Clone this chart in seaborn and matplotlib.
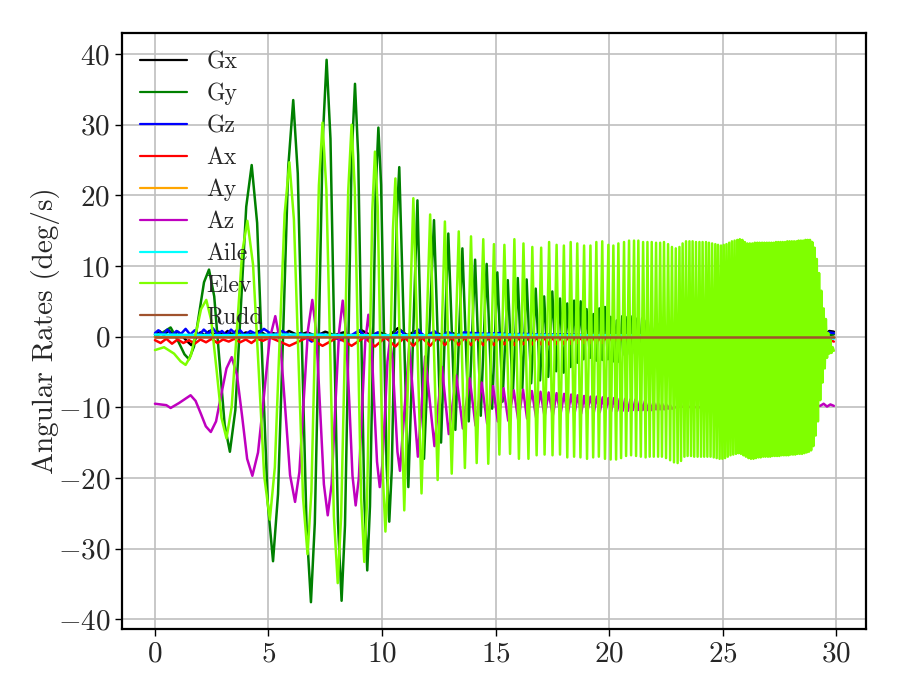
import pandas as pd
import seaborn as sns
import matplotlib
matplotlib.use("Agg")
import matplotlib.pyplot as plt
from matplotlib.lines import Line2D

# points (time in s, rate in deg/s)
gx_t = [0.00, 0.20, 0.40, 0.60, 0.80, 1.00, 1.20, 1.40,
        1.60, 1.80, 2.00, 2.20, 2.40, 2.60, 2.80, 3.00,
        3.20, 3.40, 3.60, 3.80, 4.00, 4.30, 4.60, 4.90,
        5.20, 5.60, 5.90, 6.30, 6.70, 7.10, 7.50, 7.90,
        8.30, 8.70, 9.10, 9.50, 9.90, 10.30, 10.70, 11.10,
        11.50, 11.90, 12.30, 12.70, 13.10, 13.50, 14.00, 14.50,
        15.00, 16.00, 17.00, 18.00, 19.00, 20.00, 22.00, 24.00,
        26.00, 28.00, 29.50, 29.70, 29.90]
gx_v = [0.3, 0.8, 0.2, 0.9, 0.3, 0.7, 0.1, -0.6,
        -1.2, -0.2, 0.6, 0.2, 0.8, 0.3, 0.7, 0.2,
        0.8, 0.3, 0.9, 0.2, 0.6, 0.3, 0.8, 0.2,
        0.5, 0.1, 0.8, 0.2, 0.6, 0.1, 0.7, 0.2,
        0.6, 0.1, 0.9, 0.2, 0.6, 0.1, 1.2, 0.2,
        0.8, 0.1, 0.6, 0.2, 0.5, 0.1, 0.5, 0.1,
        0.4, 0.3, 0.2, 0.3, 0.2, 0.2, 0.1, 0.1,
        0.1, 0.1, 0.3, 0.8, 0.7]

gy_t = [0.00, 0.35, 0.69, 1.00, 1.30, 1.50, 1.72, 1.94,
        2.16, 2.38, 2.61, 2.84, 3.07, 3.30, 3.54, 3.78,
        4.02, 4.26, 4.50, 4.73, 4.97, 5.20, 5.42, 5.65,
        5.87, 6.09, 6.29, 6.48, 6.68, 6.87, 7.04, 7.22,
        7.39, 7.56, 7.73, 7.89, 8.06, 8.22, 8.37, 8.52,
        8.66, 8.81, 8.95, 9.08, 9.22, 9.35, 9.47, 9.60,
        9.72, 9.84, 9.96, 10.08, 10.20, 10.32, 10.43, 10.54,
        10.65, 10.76,
        11.16, 11.56, 11.85, 12.29, 12.60, 12.92, 13.23, 13.54,
        13.82, 14.10, 14.35, 14.61, 14.85, 15.08, 15.31, 15.54,
        15.76, 15.98, 16.18, 16.37, 16.57, 16.77, 16.96, 17.14,
        17.32, 17.50, 17.67, 17.84, 18.00, 18.16, 18.31, 18.46,
        18.60, 18.75, 18.88, 19.01, 19.16, 19.31, 19.44, 19.57,
        19.70, 19.82, 19.95, 20.07, 20.20, 20.34, 20.45, 20.58,
        20.69, 20.81, 20.92, 21.03, 21.14, 21.25, 21.35, 21.46,
        21.56, 21.66, 21.76, 21.86, 21.95, 22.05, 22.14, 22.23,
        22.32, 22.41, 22.50, 22.58, 22.67, 22.75, 23.00, 23.20,
        24.00, 25.00, 26.00, 27.00, 28.00, 29.00, 29.90]
gy_v = [0.0, 0.6, 1.3, -0.5, -2.5, -3.2, -1.4, 3.2,
        7.7, 9.5, 5.7, -3.4, -12.5, -16.3, -10.4, 4.0,
        18.4, 24.3, 16.1, -3.8, -23.6, -31.8, -22.3, 0.9,
        24.0, 33.5, 23.1, -2.1, -27.2, -37.6, -26.4, 0.8,
        28.0, 39.2, 28.0, 0.9, -26.2, -37.4, -26.7, -0.8,
        25.1, 35.8, 25.7, 1.4, -23.0, -33.1, -24.0, -1.8,
        20.5, 29.6, 21.5, 1.7, -18.1, -26.2, -18.9, -1.1,
        16.7, 24.0,
        -21.3, 19.3, -17.3, 16.5, -15.0, 14.6, -13.2, 12.5,
        -12.0, 10.9, -11.2, 10.3, -10.2, 9.1, -9.2, 8.0,
        -8.3, 8.3, -7.3, 8.1, -6.6, 6.8, -6.2, 5.7,
        -5.7, 6.4, -4.9, 5.4, -5.1, 4.7, -4.3, 5.1,
        -3.7, 5.0, -3.2, 3.9, -3.0, 3.2, -3.4, 4.0,
        -3.3, 4.2, -3.2, 2.8, -3.5, 2.3, -3.6, 2.9,
        -2.6, 2.8, -2.5, 2.9, -2.4, 2.6, -2.2, 2.6,
        -2.0, 2.3, -1.9, 2.3, -1.7, 2.0, -1.6, 1.8,
        -1.4, 1.6, -1.2, 1.4, -1.0, 1.0, 0.3, -0.3,
        0.2, 0.0, 0.2, -0.1, 0.1, 0.0, 0.3]

gz_t = [0.00, 0.15, 0.35, 0.55, 0.75, 0.95, 1.15, 1.35,
        1.55, 1.75, 1.95, 2.15, 2.35, 2.55, 2.75, 2.95,
        3.15, 3.35, 3.55, 3.75, 3.95, 4.20, 4.50, 4.80,
        5.20, 5.60, 6.00, 6.40, 6.90, 7.30, 7.70, 8.20,
        8.70, 9.00, 9.40, 9.80, 10.30, 10.80, 11.20, 11.60,
        11.90, 12.30, 12.60, 12.90, 13.30, 13.60, 14.10, 14.60,
        15.10, 15.60, 16.20, 17.00, 18.00, 19.00, 20.00, 22.00,
        24.00, 26.00, 28.00, 29.50, 29.70, 29.90]
gz_v = [0.5, 0.9, 0.3, 1.0, 0.2, 0.8, 0.4, 1.1,
        0.3, 0.9, 0.2, 1.0, 0.4, 1.2, 0.3, 0.8,
        0.2, 1.0, 0.4, 0.9, 0.2, 0.8, 0.3, 1.1,
        0.2, 0.8, 0.1, 0.5, -0.7, 0.4, 0.1, -0.5,
        0.3, 0.9, -0.4, 0.6, -0.3, 0.9, -0.3, 1.0,
        -0.2, 0.8, -0.2, 0.7, -0.1, 0.6, 0.5, 0.4,
        0.5, 0.3, 0.4, 0.3, 0.3, 0.2, 0.2, 0.1,
        0.1, 0.1, 0.1, 0.3, 0.6, 0.5]

ax_t = [0.00, 0.25, 0.50, 0.75, 1.00, 1.25, 1.50, 1.75,
        2.00, 2.25, 2.50, 2.75, 3.00, 3.25, 3.50, 3.75,
        4.00, 4.25, 4.50, 4.75, 5.06, 5.92, 6.72, 7.38,
        8.05, 8.66, 9.22, 9.69, 10.15, 10.59, 10.98, 11.38,
        11.74, 12.12, 12.45, 12.77, 13.07, 13.38, 13.65, 13.92,
        14.17, 14.46, 14.68, 14.93, 15.17, 15.39, 15.64, 15.83,
        16.03, 16.23, 16.45, 16.62, 16.81, 17.01, 17.16, 17.36,
        17.51, 17.69, 17.84, 18.01, 18.16, 18.31, 18.46, 18.60,
        18.74, 18.90, 19.03, 19.18, 19.30, 19.44, 19.55, 19.70,
        19.82, 19.97, 20.07, 20.19, 20.31, 20.41, 20.53, 20.66,
        20.75, 20.88, 20.97, 21.10, 21.19, 21.29, 21.40, 21.50,
        21.61, 21.69, 21.79, 21.88, 22.50, 24.00, 26.00, 28.00,
        29.40, 29.60, 29.75, 29.90]
ax_v = [-0.5, -0.9, -0.3, -1.0, -0.4, -0.9, -0.5, -1.0,
        -0.4, -0.8, -0.3, -0.9, -0.4, -0.7, -0.3, -0.8,
        -0.4, -0.9, -0.3, -0.6, -0.1, -1.3, -0.1, -1.3,
        -0.1, -1.3, -0.1, -1.4, -0.1, -1.4, -0.1, -1.3,
        -0.1, -1.3, -0.1, -1.2, -0.1, -1.2, -0.1, -1.2,
        -0.1, -1.2, -0.1, -1.2, -0.1, -1.1, -0.1, -1.2,
        -0.1, -1.1, -0.1, -1.1, -0.1, -1.1, -0.1, -1.1,
        -0.1, -1.0, -0.1, -1.0, -0.1, -1.0, -0.1, -0.9,
        -0.1, -0.9, -0.1, -0.9, -0.1, -0.9, -0.1, -0.9,
        -0.1, -0.8, -0.1, -0.8, -0.1, -0.8, -0.1, -0.8,
        -0.1, -0.8, -0.1, -0.7, -0.1, -0.7, -0.1, -0.7,
        -0.1, -0.6, -0.1, -0.6, -0.2, -0.2, -0.2, -0.2,
        -0.3, -0.8, -0.5, -0.7]

ay_t = [0.0, 2.0, 5.0, 8.0, 11.0, 14.0, 17.0, 20.0, 23.0, 26.0, 29.0, 29.9]
ay_v = [-0.1, 0.0, -0.1, 0.1, 0.0, -0.1, 0.0, 0.0, -0.1, 0.0, 0.0, -0.1]

az_t = [0.00, 0.25, 0.50, 0.69, 1.06, 1.57, 1.79, 2.02,
        2.24, 2.46, 2.69, 2.92, 3.15, 3.38, 3.61, 3.84,
        4.06, 4.29, 4.54, 4.80, 5.05, 5.30, 5.52, 5.74,
        5.95, 6.17, 6.36, 6.55, 6.74, 6.93, 7.10, 7.27,
        7.44, 7.61, 7.78, 7.94, 8.11, 8.27, 8.41, 8.56,
        8.70, 8.84, 8.98, 9.12, 9.26, 9.40, 9.53, 9.65,
        9.78, 9.90, 10.01, 10.13, 10.24, 10.35, 10.46, 10.57,
        10.68, 10.79,
        11.20, 11.58, 11.90, 12.31, 12.64, 12.94, 13.27, 13.56,
        13.86, 14.12, 14.39, 14.63, 14.89, 15.10, 15.35, 15.56,
        15.80, 16.00, 16.21, 16.39, 16.60, 16.79, 16.98, 17.16,
        17.34, 17.52, 17.69, 17.86, 18.02, 18.18, 18.33, 18.48,
        18.62, 18.77, 18.90, 19.03, 19.18, 19.33, 19.46, 19.59,
        19.72, 19.84, 19.97, 20.09, 20.22, 20.36, 20.47, 20.60,
        20.71, 20.83, 20.94, 21.05, 21.16, 21.27, 21.37, 21.48,
        21.58, 21.68, 21.78, 21.88, 21.97, 22.07, 22.16, 22.25,
        22.34, 22.43, 22.52, 22.60, 22.69, 22.77, 23.00, 24.00,
        25.50, 27.00, 28.50, 29.30, 29.45, 29.60, 29.75, 29.90]
az_v = [-9.5, -9.6, -9.7, -10.1, -9.4, -8.3, -9.1, -10.9,
        -12.7, -13.5, -12.0, -8.2, -4.5, -2.9, -5.4, -11.3,
        -17.3, -19.7, -16.4, -8.4, -0.4, 2.9, -0.9, -10.3,
        -19.6, -23.4, -19.2, -9.1, 1.0, 5.2, 0.8, -10.1,
        -20.9, -25.3, -20.9, -10.1, 0.7, 5.1, 0.9, -9.4,
        -19.7, -23.9, -20.0, -10.4, -0.8, 3.1, -0.5, -9.1,
        -17.7, -21.3, -18.3, -10.9, -3.5, -0.5, -3.2, -9.8,
        -16.3, -19.0,
        -1.4, -17.0, -2.8, -15.5, -4.3, -13.8, -5.5, -13.0,
        -5.9, -12.6, -6.5, -12.3, -7.0, -12.0, -7.3, -11.9,
        -7.6, -11.8, -7.5, -11.6, -7.7, -11.5, -7.8, -11.3,
        -7.9, -11.2, -8.0, -11.0, -8.1, -11.0, -8.2, -10.9,
        -8.3, -10.9, -8.4, -10.8, -8.5, -10.7, -8.5, -10.7,
        -8.6, -10.6, -8.7, -10.6, -8.7, -10.5, -8.8, -10.5,
        -8.8, -10.5, -8.9, -10.4, -8.9, -10.4, -9.0, -10.4,
        -9.1, -10.4, -9.2, -10.4, -9.3, -10.3, -9.4, -10.3,
        -9.5, -10.3, -9.6, -10.2, -9.7, -10.2, -9.9, -10.0,
        -10.0, -9.9, -10.0, -9.8, -9.5, -9.9, -9.6, -9.8]

aile_t = [0.0, 3.0, 6.0, 9.0, 12.0, 15.0, 18.0, 21.0, 24.0, 27.0, 29.5, 29.9]
aile_v = [0.3, 0.2, 0.3, 0.2, 0.2, 0.3, 0.2, 0.2, 0.2, 0.2, 0.2, -0.3]

elev_t = [0.00, 0.40, 0.84, 1.13, 1.35, 1.58, 1.81, 2.03,
          2.26, 2.48, 2.71, 2.93, 3.15, 3.38, 3.61, 3.84,
          4.07, 4.32, 4.57, 4.81, 5.06, 5.28, 5.49, 5.71,
          5.92, 6.12, 6.32, 6.52, 6.72, 6.89, 7.05, 7.22,
          7.38, 7.55, 7.72, 7.88, 8.05, 8.20, 8.36, 8.51,
          8.66, 8.80, 8.94, 9.08, 9.22, 9.34, 9.46, 9.57,
          9.69, 9.81, 9.92, 10.04, 10.15, 10.26, 10.37, 10.48,
          10.59,
          10.98, 11.38, 11.74, 12.12, 12.45, 12.77, 13.07,
          13.38, 13.65, 13.92, 14.17, 14.46, 14.68, 14.93, 15.17,
          15.39, 15.64, 15.83, 16.03, 16.23, 16.45, 16.62, 16.81,
          17.01, 17.16, 17.36, 17.51, 17.69, 17.84, 18.01, 18.16,
          18.31, 18.46, 18.60, 18.74, 18.90, 19.03, 19.18, 19.30,
          19.44, 19.55, 19.70, 19.82, 19.97, 20.07, 20.19, 20.31,
          20.41, 20.53, 20.66, 20.75, 20.88, 20.97, 21.10, 21.19,
          21.29, 21.40, 21.50, 21.61, 21.69, 21.79, 21.88, 21.97,
          22.07, 22.16, 22.25, 22.33, 22.42, 22.51, 22.60, 22.69,
          22.77, 22.86, 22.94, 23.02, 23.10, 23.17, 23.24, 23.32,
          23.39, 23.46, 23.54, 23.61, 23.68, 23.75, 23.83, 23.90,
          23.98, 24.05, 24.12, 24.19, 24.27, 24.33, 24.40, 24.47,
          24.54, 24.61, 24.68, 24.74, 24.80, 24.87, 24.93, 24.99,
          25.05, 25.11, 25.17, 25.23, 25.29, 25.35, 25.41, 25.47,
          25.53, 25.59, 25.65, 25.70, 25.76, 25.81, 25.87, 25.92,
          25.98, 26.03, 26.09, 26.14, 26.20, 26.25, 26.31, 26.36,
          26.42, 26.47, 26.53, 26.58, 26.63, 26.68, 26.74, 26.79,
          26.84, 26.89, 26.95, 27.00, 27.05, 27.10, 27.15, 27.20,
          27.25, 27.30, 27.35, 27.40, 27.45, 27.50, 27.55, 27.60,
          27.65, 27.70, 27.75, 27.80, 27.85, 27.90, 27.95, 28.00,
          28.05, 28.10, 28.15, 28.20, 28.25, 28.30, 28.35, 28.40,
          28.45, 28.50, 28.55, 28.60, 28.65, 28.70, 28.75, 28.80,
          28.85, 28.90, 28.95, 29.00, 29.05, 29.10, 29.15, 29.20,
          29.25, 29.30, 29.35, 29.40, 29.45, 29.50, 29.55, 29.60,
          29.65, 29.70, 29.75, 29.80, 29.85, 29.90]
elev_v = [-1.9, -1.5, -2.4, -3.5, -4.0, -2.7, 0.6, 3.9,
          5.2, 2.3, -4.6, -11.5, -14.4, -9.9, 1.0, 11.9,
          16.4, 10.2, -4.8, -19.7, -25.9, -18.5, -0.6, 17.3,
          24.7, 16.6, -3.1, -22.7, -30.8, -21.9, -0.3, 21.4,
          30.3, 20.8, -2.3, -25.4, -34.9, -25.4, -2.5, 20.5,
          30.0, 21.0, -1.0, -22.9, -31.9, -23.4, -2.9, 17.7,
          26.2, 18.4, -0.7, -19.8, -27.6, -20.3, -2.6, 15.1,
          22.4,
          -24.6, 19.6, -22.2, 17.3, -20.3, 16.3, -19.4,
          14.9, -18.6, 14.2, -17.9, 13.8, -18.0, 13.1, -16.7,
          13.0, -16.6, 13.8, -17.3, 13.2, -17.3, 12.7, -16.8,
          12.6, -16.7, 13.4, -16.8, 13.0, -16.7, 12.9, -17.1,
          13.4, -17.0, 13.2, -17.1, 12.9, -17.3, 12.9, -17.1,
          13.4, -17.0, 13.5, -17.3, 13.0, -17.4, 12.9, -17.4,
          13.2, -17.2, 13.4, -16.9, 13.6, -16.8, 13.6, -16.9,
          13.6, -17.0, 13.4, -17.1, 13.4, -17.0, 13.4, -17.0,
          13.3, -17.0, 13.3, -17.0, 13.4, -17.2, 13.1, -17.5,
          12.7, -17.8, 12.5, -17.9, 12.7, -17.6, 13.2, -17.0,
          13.5, -16.9, 13.5, -16.9, 13.5, -17.0, 13.4, -17.0,
          13.4, -17.0, 13.4, -17.0, 13.4, -17.0, 13.3, -17.0,
          13.2, -17.1, 13.1, -17.2, 13.0, -17.3, 12.9, -17.3,
          13.0, -17.2, 13.1, -17.0, 13.3, -16.8, 13.5, -16.7,
          13.6, -16.6, 13.7, -16.5, 13.8, -16.6, 13.7, -16.8,
          13.4, -17.0, 13.2, -17.2, 13.2, -17.3, 13.2, -17.3,
          13.3, -17.2, 13.3, -17.1, 13.3, -17.1, 13.3, -17.0,
          13.3, -17.0, 13.3, -17.0, 13.3, -17.0, 13.3, -16.9,
          13.3, -16.9, 13.4, -16.9, 13.4, -16.9, 13.4, -16.8,
          13.4, -16.8, 13.4, -16.8, 13.5, -16.8, 13.5, -16.7,
          13.5, -16.7, 13.5, -16.7, 13.5, -16.6, 13.6, -16.6,
          13.6, -16.6, 13.6, -16.5, 13.7, -16.4, 13.7, -16.3,
          13.7, -16.1, 13.4, -15.5, 12.6, -14.0, 11.0, -12.0,
          9.0, -9.0, 6.5, -6.5, 4.0, -4.5, 2.5, -3.0,
          0.5, -2.4, -0.5, -2.3, -1.5, -2.0]

rudd_t = [0.0, 29.9]
rudd_v = [0.0, 0.0]

names = ["Gx", "Gy", "Gz", "Ax", "Ay", "Az", "Aile", "Elev", "Rudd"]
colors = {"Gx": "black", "Gy": "green", "Gz": "blue", "Ax": "red",
          "Ay": "orange", "Az": "m", "Aile": "cyan", "Elev": "chartreuse",
          "Rudd": "sienna"}

series = {"Gx": (gx_t, gx_v), "Gy": (gy_t, gy_v), "Gz": (gz_t, gz_v),
          "Ax": (ax_t, ax_v), "Ay": (ay_t, ay_v), "Az": (az_t, az_v),
          "Aile": (aile_t, aile_v), "Elev": (elev_t, elev_v),
          "Rudd": (rudd_t, rudd_v)}

df = pd.concat([pd.DataFrame({"time": t, "rate": v, "signal": name})
                for name, (t, v) in series.items()], ignore_index=True)

sns.set_style("ticks")
plt.rcParams["font.family"] = ["cmr10", "DejaVu Serif"]
plt.rcParams["mathtext.fontset"] = "cm"
plt.rcParams["axes.formatter.use_mathtext"] = True

fig = plt.figure(figsize=(9, 7), dpi=100)
ax = fig.add_axes([0.1356, 0.1014, 0.8267, 0.8515])

sns.lineplot(data=df, x="time", y="rate", hue="signal", hue_order=names,
             palette=colors, estimator=None, sort=False, linewidth=1.8,
             legend=False, ax=ax)

ax.set_xlim(-1.45, 31.32)
ax.set_ylim(-41.4, 43.0)
ax.set_xticks(range(0, 31, 5))
ax.set_yticks(range(-40, 41, 10))
ax.grid(True, color="0.75", linewidth=1.2)
ax.set_axisbelow(True)
for spine in ax.spines.values():
    spine.set_visible(True)
    spine.set_color("black")
    spine.set_linewidth(1.6)
ax.tick_params(labelsize=21, direction="out", length=5, width=1, color="black")
ax.set_xlabel("")
ax.set_ylabel("Angular Rates (deg/s)", fontsize=21, labelpad=-2)

handles = [Line2D([], [], color=colors[n], linewidth=1.6) for n in names]
ax.legend(handles, names, loc="upper left", frameon=False, fontsize=17,
          handlelength=2.0, labelspacing=0.41, borderaxespad=0.37)

fig.savefig("out.png", dpi=100)
